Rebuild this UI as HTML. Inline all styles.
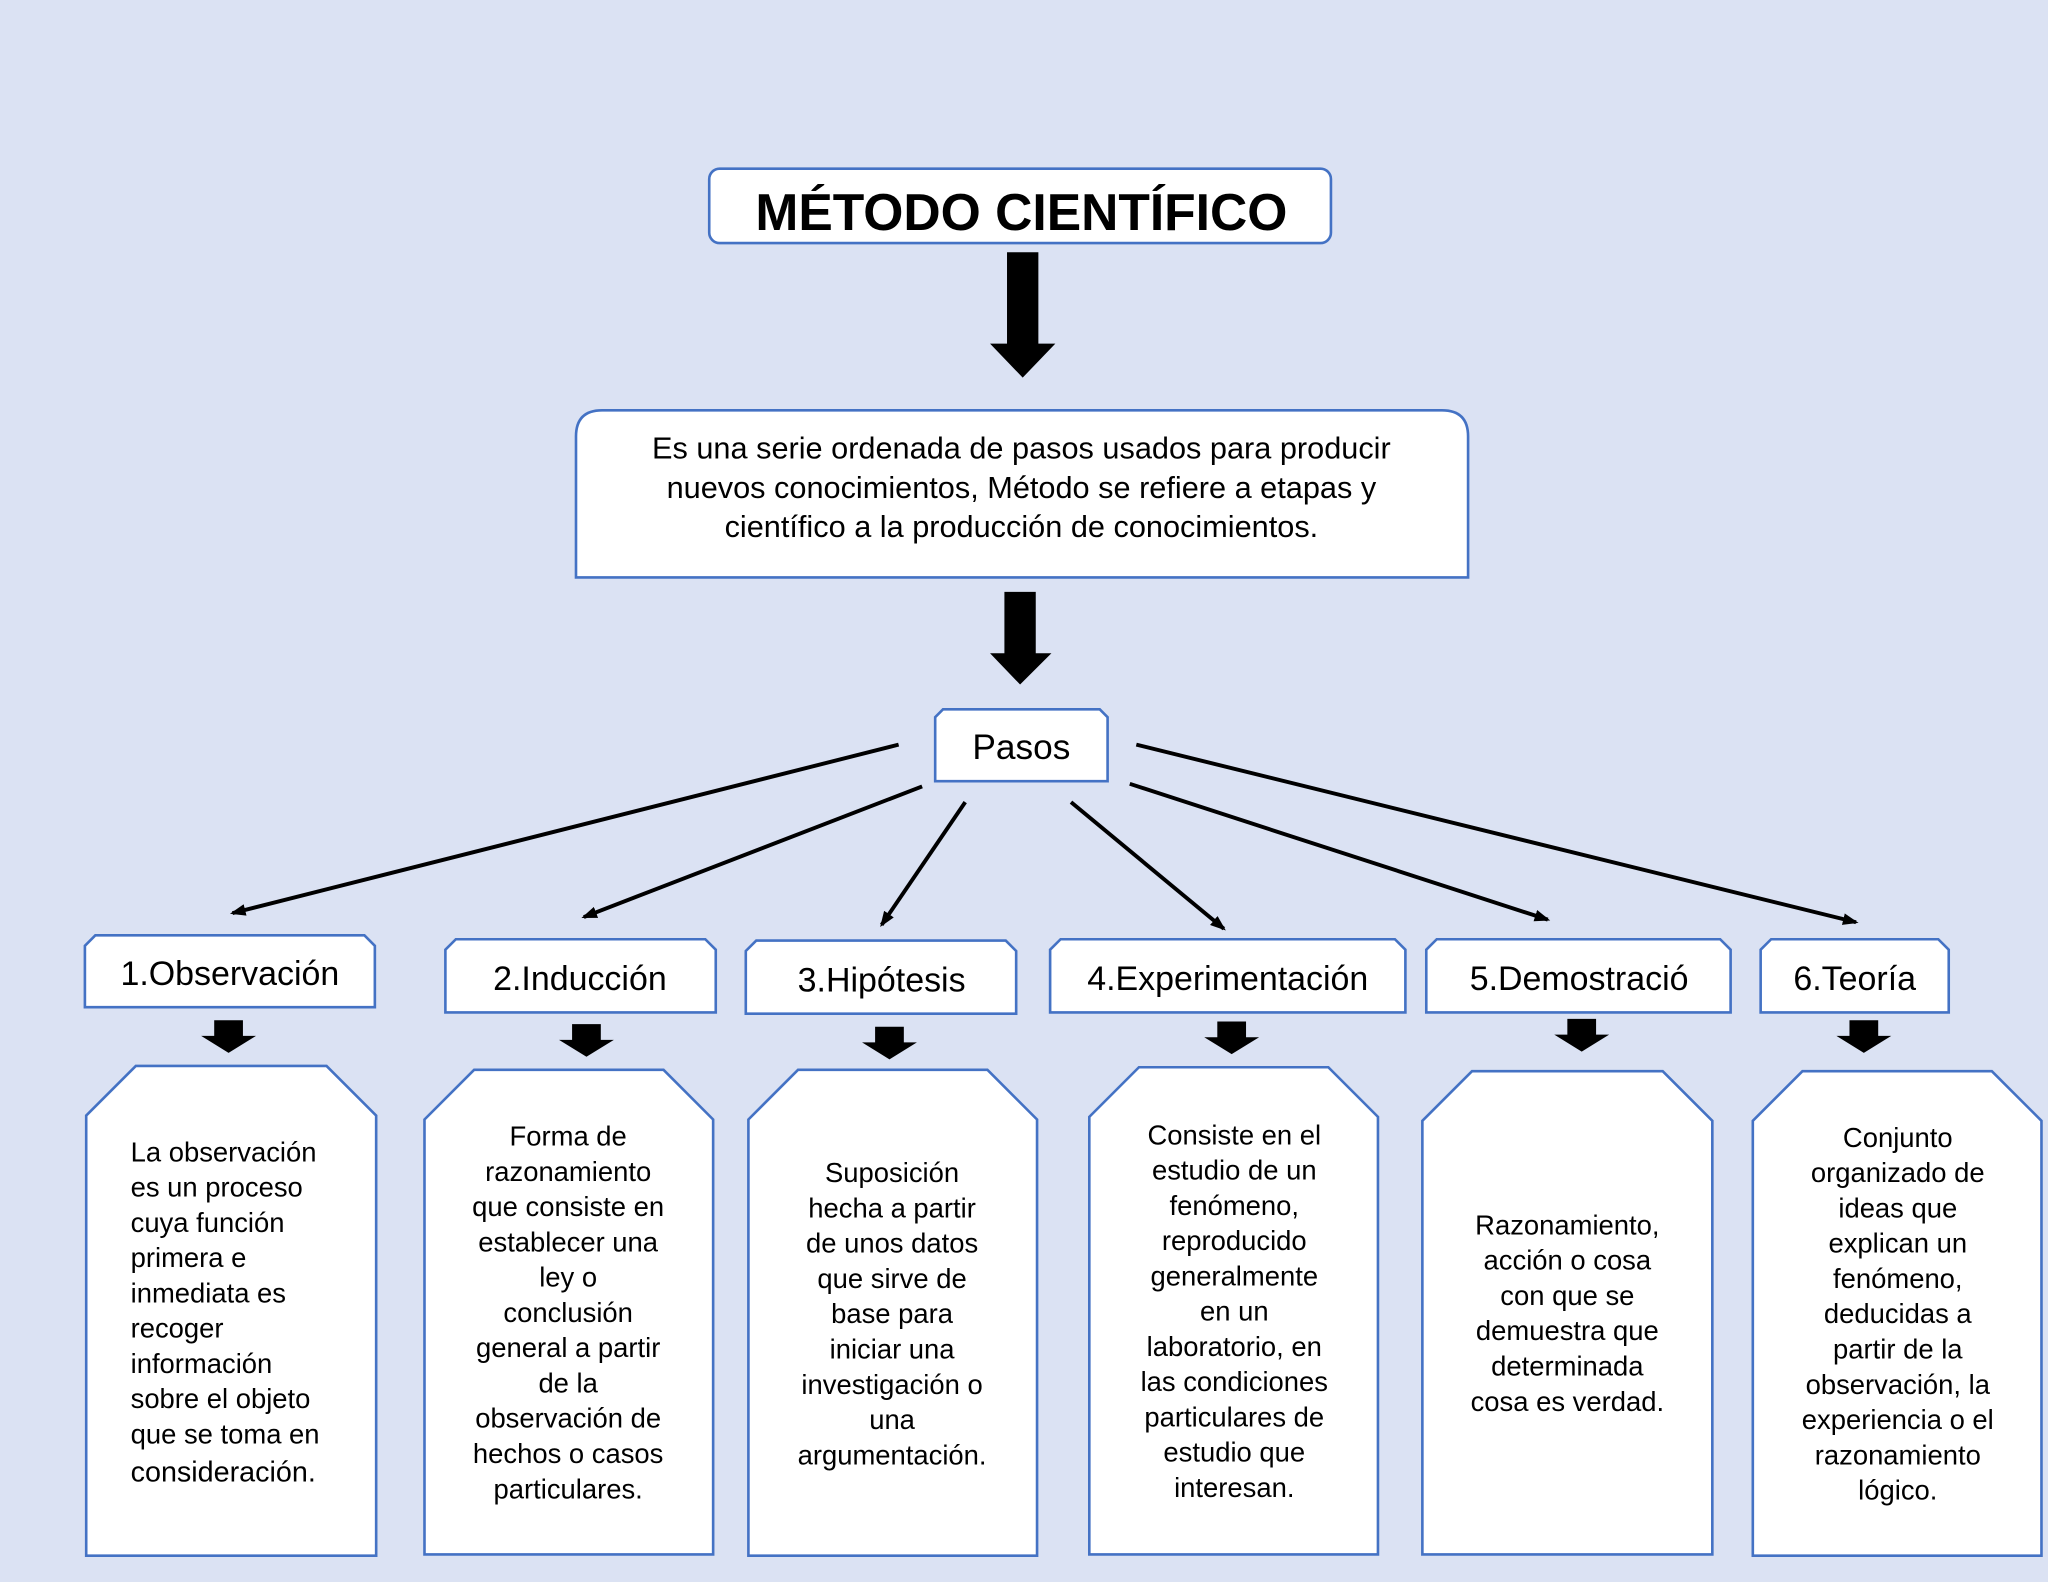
<!DOCTYPE html>
<html><head><meta charset="utf-8"><style>
html,body{margin:0;padding:0;background:#dbe2f3;}
svg{display:block}
text{font-family:"Liberation Sans",Arial,sans-serif;fill:#000}
</style></head><body>
<svg width="2048" height="1582" viewBox="0 0 1568 1211" xmlns="http://www.w3.org/2000/svg">
<defs><marker id="ah" markerWidth="12" markerHeight="9" refX="10" refY="4.5" orient="auto" markerUnits="userSpaceOnUse"><path d="M0,0 L12,4.5 L0,9 z" fill="#000"/></marker></defs>
<rect width="1568" height="1211" fill="#dbe2f3"/>
<g fill="#fff" stroke="#4472c4" stroke-width="2">
<rect x="543" y="129" width="476" height="57" rx="8"/>
<path d="M441,442 L441,334 Q441,314 461,314 L1104,314 Q1124,314 1124,334 L1124,442 Z"/>
<path d="M716,598 L716,549 L722,543 L842,543 L848,549 L848,598 Z"/>
<path d="M65,771 L65,724 L73,716 L279,716 L287,724 L287,771 Z"/>
<path d="M341,775 L341,727 L349,719 L540,719 L548,727 L548,775 Z"/>
<path d="M571,776 L571,728 L579,720 L770,720 L778,728 L778,776 Z"/>
<path d="M804,775 L804,727 L812,719 L1068,719 L1076,727 L1076,775 Z"/>
<path d="M1092,775 L1092,727 L1100,719 L1317,719 L1325,727 L1325,775 Z"/>
<path d="M1348,775 L1348,727 L1356,719 L1484,719 L1492,727 L1492,775 Z"/>
<path d="M66,1191 L66,854 L104,816 L250,816 L288,854 L288,1191 Z"/>
<path d="M325,1190 L325,857 L363,819 L508,819 L546,857 L546,1190 Z"/>
<path d="M573,1191 L573,857 L611,819 L756,819 L794,857 L794,1191 Z"/>
<path d="M834,1190 L834,855 L872,817 L1017,817 L1055,855 L1055,1190 Z"/>
<path d="M1089,1190 L1089,858 L1127,820 L1273,820 L1311,858 L1311,1190 Z"/>
<path d="M1342,1191 L1342,858 L1380,820 L1525,820 L1563,858 L1563,1191 Z"/>
</g>
<g fill="#000">
<path d="M771,193 L795,193 L795,263 L808,263 L783,289 L758,263 L771,263 Z"/>
<path d="M769,453 L793,453 L793,500 L805,500 L781,524 L758,500 L769,500 Z"/>
<path d="M164,781 L186,781 L186,793 L196,793 L175,806 L154,793 L164,793 Z"/>
<path d="M438,784 L460,784 L460,796 L470,796 L449,809 L428,796 L438,796 Z"/>
<path d="M670,786 L692,786 L692,798 L702,798 L681,811 L660,798 L670,798 Z"/>
<path d="M932,782 L954,782 L954,794 L964,794 L943,807 L922,794 L932,794 Z"/>
<path d="M1200,780 L1222,780 L1222,792 L1232,792 L1211,805 L1190,792 L1200,792 Z"/>
<path d="M1416,781 L1438,781 L1438,793 L1448,793 L1427,806 L1406,793 L1416,793 Z"/>
</g>
<g stroke="#000" stroke-width="3" marker-end="url(#ah)">
<line x1="688" y1="570" x2="178" y2="699"/>
<line x1="706" y1="602" x2="447" y2="702"/>
<line x1="739" y1="614" x2="675" y2="708"/>
<line x1="820" y1="614" x2="937" y2="711"/>
<line x1="865" y1="600" x2="1185" y2="704"/>
<line x1="870" y1="570" x2="1421" y2="706"/>
</g>
<text x="782" y="176" font-size="39.5" font-weight="bold" text-anchor="middle">MÉTODO CIENTÍFICO</text>
<g font-size="23.5" text-anchor="middle">
<text x="782" y="351">Es una serie ordenada de pasos usados para producir</text>
<text x="782" y="381">nuevos conocimientos, Método se refiere a etapas y</text>
<text x="782" y="411">científico a la producción de conocimientos.</text>
</g>
<text x="782" y="581" font-size="27" text-anchor="middle">Pasos</text>
<g font-size="26" text-anchor="middle">
<text x="176" y="754">1.Observación</text>
<text x="444" y="758">2.Inducción</text>
<text x="675" y="759">3.Hipótesis</text>
<text x="940" y="758">4.Experimentación</text>
<text x="1209" y="758">5.Demostració</text>
<text x="1420" y="758">6.Teoría</text>
</g>
<g font-size="21">
<text x="100" y="889">La observación</text>
<text x="100" y="916">es un proceso</text>
<text x="100" y="943">cuya función</text>
<text x="100" y="970">primera e</text>
<text x="100" y="997">inmediata es</text>
<text x="100" y="1024">recoger</text>
<text x="100" y="1051">información</text>
<text x="100" y="1078">sobre el objeto</text>
<text x="100" y="1105">que se toma en</text>
<text x="100" y="1134" font-size="22">consideración.</text>
</g>
<g font-size="21" text-anchor="middle">
<text x="435" y="877">Forma de</text>
<text x="435" y="904">razonamiento</text>
<text x="435" y="931">que consiste en</text>
<text x="435" y="958">establecer una</text>
<text x="435" y="985">ley o</text>
<text x="435" y="1012">conclusión</text>
<text x="435" y="1039">general a partir</text>
<text x="435" y="1066">de la</text>
<text x="435" y="1093">observación de</text>
<text x="435" y="1120">hechos o casos</text>
<text x="435" y="1147">particulares.</text>

<text x="683" y="905">Suposición</text>
<text x="683" y="932">hecha a partir</text>
<text x="683" y="959">de unos datos</text>
<text x="683" y="986">que sirve de</text>
<text x="683" y="1013">base para</text>
<text x="683" y="1040">iniciar una</text>
<text x="683" y="1067">investigación o</text>
<text x="683" y="1094">una</text>
<text x="683" y="1121">argumentación.</text>

<text x="945" y="876">Consiste en el</text>
<text x="945" y="903">estudio de un</text>
<text x="945" y="930">fenómeno,</text>
<text x="945" y="957">reproducido</text>
<text x="945" y="984">generalmente</text>
<text x="945" y="1011">en un</text>
<text x="945" y="1038">laboratorio, en</text>
<text x="945" y="1065">las condiciones</text>
<text x="945" y="1092">particulares de</text>
<text x="945" y="1119">estudio que</text>
<text x="945" y="1146">interesan.</text>

<text x="1200" y="945">Razonamiento,</text>
<text x="1200" y="972">acción o cosa</text>
<text x="1200" y="999">con que se</text>
<text x="1200" y="1026">demuestra que</text>
<text x="1200" y="1053">determinada</text>
<text x="1200" y="1080">cosa es verdad.</text>

<text x="1453" y="878">Conjunto</text>
<text x="1453" y="905">organizado de</text>
<text x="1453" y="932">ideas que</text>
<text x="1453" y="959">explican un</text>
<text x="1453" y="986">fenómeno,</text>
<text x="1453" y="1013">deducidas a</text>
<text x="1453" y="1040">partir de la</text>
<text x="1453" y="1067">observación, la</text>
<text x="1453" y="1094">experiencia o el</text>
<text x="1453" y="1121">razonamiento</text>
<text x="1453" y="1148">lógico.</text>
</g>
</svg>
</body></html>
